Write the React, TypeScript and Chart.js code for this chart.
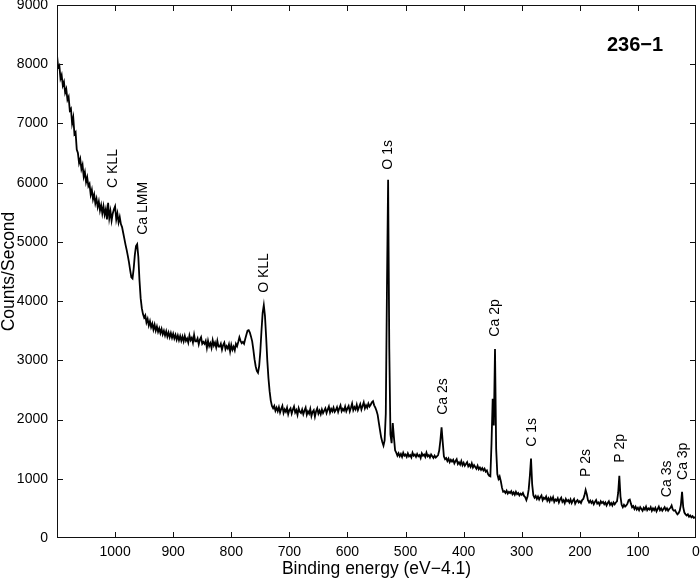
import React, { useEffect, useRef } from 'react';
import { Chart, registerables } from 'chart.js';

Chart.register(...registerables);

// Binding energy grid: 1100 eV down to 0 eV, every 2 eV
const energyStartEV = 1100;
const energyStepEV = 2;

// Counts/Second (one row = 20 eV)
const countsPerSecond: number[] = [
  8150, 7950, 7980, 7760, 7820, 7640, 7700, 7520, 7580, 7400, // 1100-1082
  7450, 7220, 7250, 7000, 7100, 6820, 6850, 6560, 6500, 6330, // 1080-1062
  6400, 6230, 6300, 6100, 6180, 6010, 6090, 5940, 5980, 5800, // 1060-1042
  5880, 5720, 5800, 5650, 5730, 5590, 5680, 5530, 5620, 5480, // 1040-1022
  5600, 5460, 5550, 5380, 5660, 5400, 5520, 5360, 5480, 5550, // 1020-1002
  5600, 5380, 5480, 5330, 5420, 5300, 5250, 5150, 5050, 4950, // 1000-982
  4860, 4760, 4650, 4520, 4400, 4380, 4550, 4780, 4930, 4960, // 980-962
  4750, 4350, 4050, 3880, 3780, 3720, 3760, 3640, 3700, 3590, // 960-942
  3660, 3560, 3620, 3520, 3600, 3500, 3570, 3480, 3540, 3460, // 940-922
  3530, 3440, 3500, 3420, 3490, 3400, 3470, 3390, 3460, 3380, // 920-902
  3450, 3370, 3430, 3350, 3420, 3340, 3410, 3330, 3400, 3320, // 900-882
  3410, 3330, 3370, 3300, 3420, 3340, 3380, 3300, 3430, 3320, // 880-862
  3320, 3370, 3270, 3350, 3390, 3280, 3310, 3280, 3330, 3210, // 860-842
  3330, 3240, 3290, 3210, 3340, 3250, 3300, 3220, 3330, 3230, // 840-822
  3230, 3280, 3180, 3260, 3300, 3190, 3240, 3200, 3270, 3150, // 820-802
  3260, 3180, 3230, 3170, 3280, 3240, 3310, 3390, 3330, 3290, // 800-782
  3310, 3280, 3360, 3430, 3500, 3510, 3470, 3400, 3320, 3180, // 780-762
  3020, 2900, 2820, 2790, 2900, 3150, 3500, 3800, 3930, 3750, // 760-742
  3400, 3000, 2700, 2480, 2320, 2230, 2190, 2230, 2150, 2200, // 740-722
  2140, 2210, 2120, 2180, 2230, 2110, 2170, 2130, 2200, 2090, // 720-702
  2160, 2190, 2100, 2170, 2220, 2120, 2160, 2080, 2190, 2130, // 700-682
  2110, 2170, 2090, 2150, 2200, 2080, 2140, 2100, 2180, 2060, // 680-662
  2130, 2160, 2050, 2140, 2190, 2100, 2150, 2090, 2170, 2110, // 660-642
  2150, 2190, 2110, 2170, 2220, 2120, 2180, 2140, 2200, 2130, // 640-622
  2160, 2210, 2130, 2190, 2240, 2140, 2180, 2150, 2220, 2140, // 620-602
  2190, 2230, 2140, 2200, 2270, 2160, 2210, 2170, 2250, 2160, // 600-582
  2210, 2260, 2170, 2230, 2290, 2190, 2240, 2200, 2270, 2220, // 580-562
  2250, 2290, 2310, 2240, 2200, 2150, 2080, 1950, 1820, 1700, // 560-542
  1620, 1560, 1650, 2100, 4200, 6050, 3200, 1750, 1600, 1940, // 540-522
  1700, 1480, 1440, 1390, 1430, 1380, 1420, 1370, 1440, 1390, // 520-502
  1410, 1370, 1430, 1380, 1400, 1360, 1440, 1390, 1410, 1370, // 500-482
  1420, 1380, 1400, 1350, 1430, 1390, 1410, 1370, 1440, 1380, // 480-462
  1400, 1360, 1410, 1380, 1350, 1390, 1360, 1380, 1400, 1480, // 460-442
  1650, 1870, 1620, 1380, 1330, 1350, 1300, 1340, 1280, 1320, // 440-422
  1290, 1320, 1260, 1300, 1330, 1250, 1280, 1240, 1300, 1230, // 420-402
  1270, 1220, 1250, 1280, 1210, 1240, 1200, 1260, 1190, 1230, // 400-382
  1200, 1170, 1220, 1160, 1190, 1150, 1180, 1140, 1170, 1120, // 380-362
  1140, 1080, 1050, 1040, 1600, 2350, 1900, 3190, 1500, 1080, // 360-342
  1000, 1040, 960, 850, 780, 790, 760, 800, 750, 780,         // 340-322
  760, 790, 740, 770, 730, 780, 740, 760, 720, 750,           // 320-302
  730, 760, 710, 690, 640, 700, 820, 1050, 1340, 900,         // 300-282
  720, 680, 710, 660, 700, 650, 690, 720, 640, 680,           // 280-262
  660, 700, 630, 670, 620, 680, 640, 690, 610, 650,           // 260-242
  630, 670, 600, 650, 680, 610, 640, 590, 660, 620,           // 240-222
  640, 600, 650, 590, 630, 660, 580, 620, 640, 600,           // 220-202
  620, 590, 640, 660, 720, 810, 740, 640, 600, 630,           // 200-182
  590, 620, 570, 610, 640, 580, 600, 560, 620, 590,           // 180-162
  610, 570, 600, 550, 590, 620, 560, 590, 550, 600,           // 160-142
  570, 600, 620, 760, 1050, 700, 560, 520, 560, 530,          // 140-122
  550, 580, 640, 650, 580, 520, 540, 490, 530, 480,           // 120-102
  510, 470, 520, 490, 460, 510, 480, 530, 470, 500,           // 100-82
  480, 520, 460, 500, 470, 510, 450, 490, 530, 470,           // 80-62
  500, 460, 490, 520, 470, 500, 460, 490, 510, 550,           // 60-42
  480, 460, 470, 430, 400, 420, 460, 560, 780, 520,           // 40-22
  430, 400, 380, 400, 360, 380, 350, 370, 340, 350,           // 20-2
  330,                                                        // 0
];

const bindingEnergy: number[] = countsPerSecond.map((_, i) => energyStartEV - i * energyStepEV);

const xTickValues = [1100, 1000, 900, 800, 700, 600, 500, 400, 300, 200, 100, 0];
const yTickValues = [0, 1000, 2000, 3000, 4000, 5000, 6000, 7000, 8000, 9000];

const peakNames = ['C KLL', 'Ca LMM', 'O KLL', 'O 1s', 'Ca 2s', 'Ca 2p', 'C 1s', 'P 2s', 'P 2p', 'Ca 3s', 'Ca 3p'];
const peakEnergies = [1003, 952, 743, 530, 435, 346, 282, 189, 131, 50, 22];
const peakLabelCounts = [5910, 5120, 4140, 6220, 2080, 3400, 1540, 1030, 1270, 690, 980];

const sampleName = '236\u22121';
const xTitle = 'Binding energy (eV\u22124.1)';
const yTitle = 'Counts/Second';

const FONT = '"Liberation Sans", Arial, Helvetica, sans-serif';

const framePlugin = {
  id: 'matlabFrame',
  afterDraw(chart: any) {
    const { ctx, chartArea, scales } = chart;
    const { left, right, top, bottom } = chartArea;
    const xs = scales.x;
    const ys = scales.y;
    ctx.save();
    ctx.strokeStyle = '#111';
    ctx.lineWidth = 1;
    ctx.strokeRect(left + 0.5, top + 0.5, right - left - 1, bottom - top - 1);
    const tl = 6;
    ctx.beginPath();
    xTickValues.forEach((v) => {
      if (v === 0 || v === 1100) return;
      const px = Math.round(xs.getPixelForValue(v)) + 0.5;
      ctx.moveTo(px, bottom);
      ctx.lineTo(px, bottom - tl);
      ctx.moveTo(px, top);
      ctx.lineTo(px, top + tl);
    });
    yTickValues.forEach((v) => {
      if (v === 0 || v === 9000) return;
      const py = Math.round(ys.getPixelForValue(v)) + 0.5;
      ctx.moveTo(left, py);
      ctx.lineTo(left + tl, py);
      ctx.moveTo(right, py);
      ctx.lineTo(right - tl, py);
    });
    ctx.stroke();

    ctx.fillStyle = '#000';
    ctx.font = `14px ${FONT}`;
    ctx.textAlign = 'left';
    ctx.textBaseline = 'middle';
    peakNames.forEach((name, i) => {
      const px = xs.getPixelForValue(peakEnergies[i]);
      const py = ys.getPixelForValue(peakLabelCounts[i]);
      ctx.save();
      ctx.translate(px, py);
      ctx.rotate(-Math.PI / 2);
      ctx.fillText(name, 0, 0);
      ctx.restore();
    });

    ctx.font = `bold 20px ${FONT}`;
    ctx.textAlign = 'center';
    ctx.textBaseline = 'middle';
    ctx.fillText(sampleName, right - 61, top + 40);
    ctx.restore();
  },
};

export default function App() {
  const canvasRef = useRef<HTMLCanvasElement | null>(null);

  useEffect(() => {
    if (!canvasRef.current) return;
    const points = bindingEnergy.map((e, i) => ({ x: e, y: countsPerSecond[i] }));
    const chart = new Chart(canvasRef.current, {
      type: 'line',
      data: {
        datasets: [
          {
            data: points,
            borderColor: '#000',
            borderWidth: 1.8,
            pointRadius: 0,
            tension: 0,
            fill: false,
          },
        ],
      },
      options: {
        animation: false,
        responsive: false,
        maintainAspectRatio: false,
        layout: { padding: { left: 0, right: 4, top: 5, bottom: 0 } },
        plugins: {
          legend: { display: false },
          tooltip: { enabled: false },
        },
        scales: {
          x: {
            type: 'linear',
            reverse: true,
            min: 0,
            max: 1100,
            afterBuildTicks: (s: any) => {
              s.ticks = xTickValues.map((v) => ({ value: v }));
            },
            ticks: {
              callback: (v: any) => (v === 1100 ? '' : String(v)),
              font: { family: FONT, size: 14 },
              color: '#000',
              padding: 6,
              maxRotation: 0,
              autoSkip: false,
            },
            grid: { display: false, drawTicks: false, tickLength: 0 },
            border: { display: false },
            title: {
              display: true,
              text: xTitle,
              font: { family: FONT, size: 17.5, lineHeight: 1.2 },
              color: '#000',
              padding: 0,
            },
            afterFit: (s: any) => {
              s.height = 42;
              s.paddingLeft = 0;
              s.paddingRight = 0;
            },
          },
          y: {
            type: 'linear',
            min: 0,
            max: 9000,
            afterBuildTicks: (s: any) => {
              s.ticks = yTickValues.map((v) => ({ value: v }));
            },
            ticks: {
              callback: (v: any) => String(v),
              font: { family: FONT, size: 14 },
              color: '#000',
              padding: 9,
              autoSkip: false,
            },
            grid: { display: false, drawTicks: false, tickLength: 0 },
            border: { display: false },
            title: {
              display: true,
              text: yTitle,
              font: { family: FONT, size: 17.5, lineHeight: 1 },
              color: '#000',
              padding: 0,
            },
            afterFit: (s: any) => {
              s.width = 57;
              s.paddingTop = 0;
              s.paddingBottom = 0;
            },
          },
        },
      } as any,
      plugins: [framePlugin],
    });
    return () => chart.destroy();
  }, []);

  return (
    <div style={{ position: 'absolute', left: 0, top: 0, width: 700, height: 580, background: '#fff' }}>
      <canvas ref={canvasRef} width={700} height={580} style={{ width: 700, height: 580, display: 'block' }} />
    </div>
  );
}
